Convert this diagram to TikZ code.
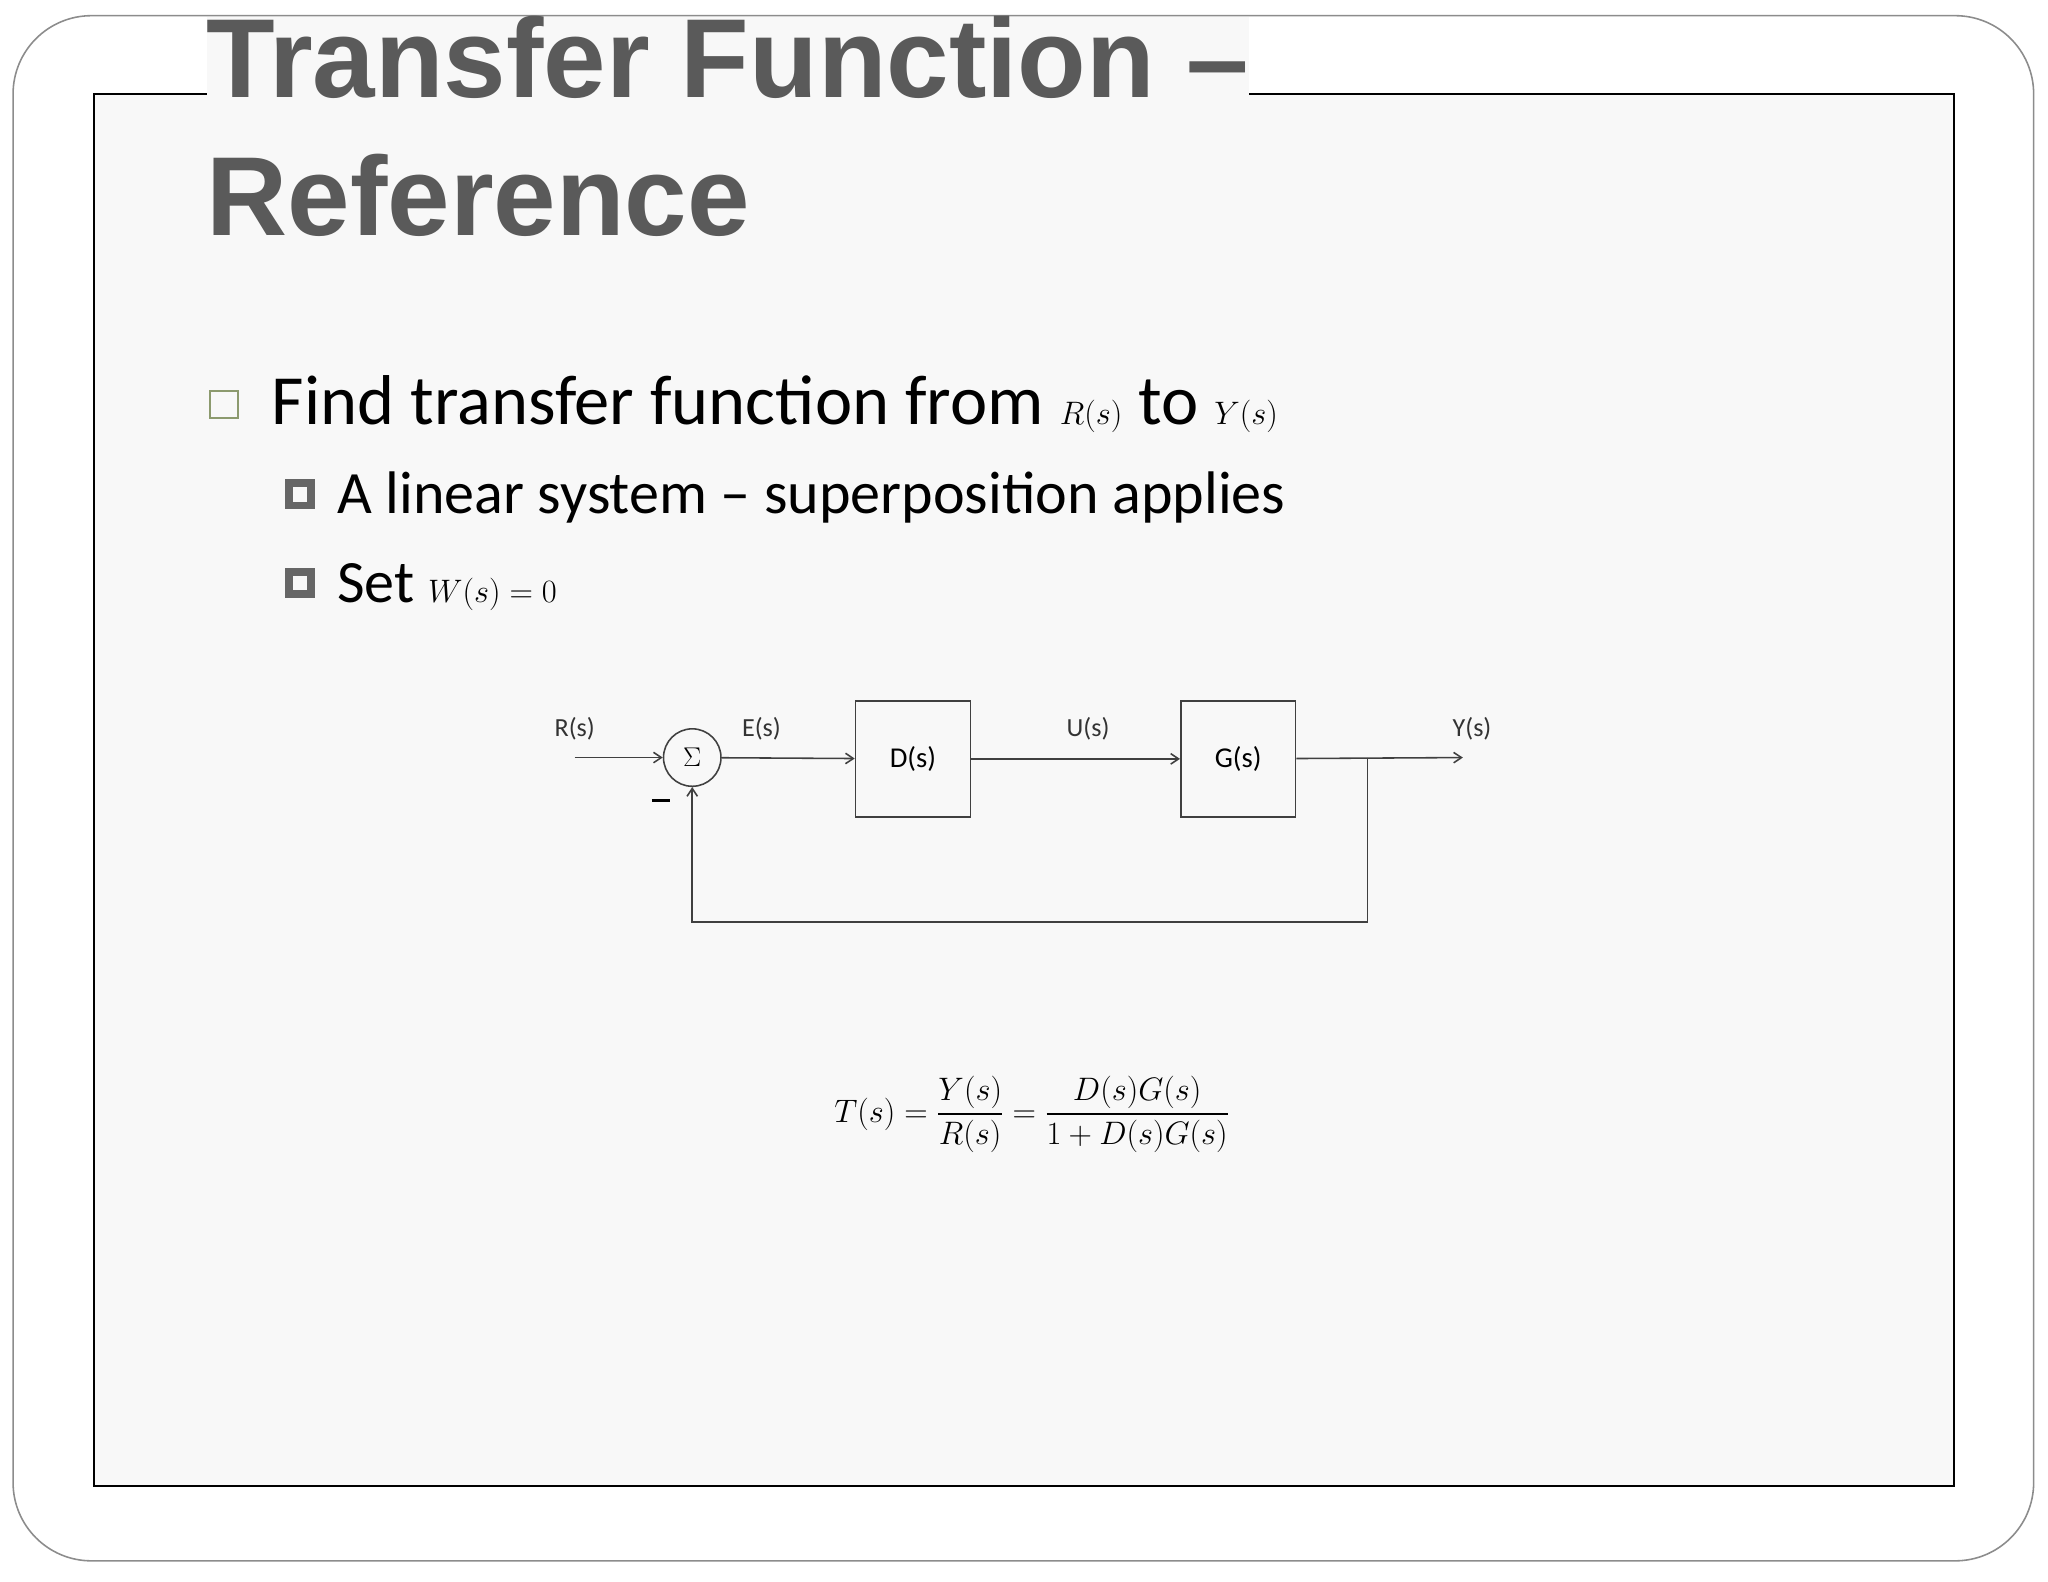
\documentclass[tikz,border=0pt]{standalone}
\usepackage{amsmath}
\usepackage{fontspec}
\setmainfont{Carlito}
\newfontfamily\titlefont{Liberation Sans}
\usetikzlibrary{arrows.meta}
\definecolor{slidebg}{HTML}{F8F8F8}
\definecolor{titlegray}{HTML}{5A5A5A}
\definecolor{olive}{HTML}{8C9A6E}
\tikzset{blk/.style={draw=black!75,line width=1.2pt,minimum width=88pt,minimum height=89pt,inner sep=0pt,font=\fontsize{22}{24}\selectfont},
lbl/.style={font=\fontsize{20}{22}\selectfont,text=black!80},
sig/.style={draw=black!75,line width=1.2pt},
arr/.style={sig,-{Straight Barb[length=6pt,width=8pt]}}}
\begin{document}
\begin{tikzpicture}[x=1pt,y=-1pt]
\useasboundingbox (0,0) rectangle (1568,1211);
\fill[white] (0,0) rectangle (1568,1211);
\draw[black!45,line width=1.2pt,rounded corners=60pt,fill=white] (10,12) rectangle (1557,1195);
\draw[black,line width=1.5pt,fill=slidebg] (72,72) rectangle (1496,1138);
\node[anchor=base west,inner sep=0pt,fill=slidebg,text=titlegray,font=\titlefont\bfseries\fontsize{86}{90}\selectfont] (t1) at (158,75) {Transfer Function –};
\node[anchor=base west,inner sep=0pt,text=titlegray,font=\titlefont\bfseries\fontsize{86}{90}\selectfont] (t2) at (158,180) {Reference};
% bullets
\draw[olive,line width=1.5pt] (161,299) rectangle (182,320);
\node[anchor=base west,inner sep=0pt,font=\fontsize{54}{60}\selectfont] (b1) at (208,325) {Find transfer function from $R(s)$ to $Y(s)$};
\foreach \y/\t in {393/{A linear system – superposition applies},461/{Set $W(s)=0$}}{
 \fill[black!60] (218,\y-26) rectangle (241,\y-3);
 \fill[slidebg] (224,\y-20) rectangle (235,\y-9);
 \node[anchor=base west,inner sep=0pt,font=\fontsize{46}{50}\selectfont] at (258,\y) {\t};
}
% diagram
\node[draw=black!75,line width=1.2pt,circle,minimum size=44pt,inner sep=0pt,font=\fontsize{22}{24}\selectfont] (sum) at (530,580) {$\Sigma$};
\node[blk] (D) at (699,581) {D(s)};
\node[blk] (G) at (948,581) {G(s)};
\coordinate (rin) at (440,580);
\coordinate (yout) at (1120,580);
\coordinate (tap) at (1047,580);
\coordinate (fb) at (1047,706);
\coordinate (fbl) at (530,706);
\draw[arr] (rin) -- (sum);
\draw[arr] (sum) -- (D);
\draw[arr] (D) -- (G);
\draw[arr] (G) -- (yout);
\draw[arr] (tap) -- (fb) -- (fbl) -- (sum);
\node[lbl] at (440,558) {R(s)};
\node[lbl] at (583,558) {E(s)};
\node[lbl] at (833,558) {U(s)};
\node[lbl] at (1127,558) {Y(s)};
\draw[black,line width=2.5pt] (499,613) -- (513,613);
% formula
\node[font=\fontsize{58}{60}\selectfont] (f) at (790,853) {$T(s)=\dfrac{Y(s)}{R(s)}=\dfrac{D(s)G(s)}{1+D(s)G(s)}$};
\end{tikzpicture}
\end{document}
